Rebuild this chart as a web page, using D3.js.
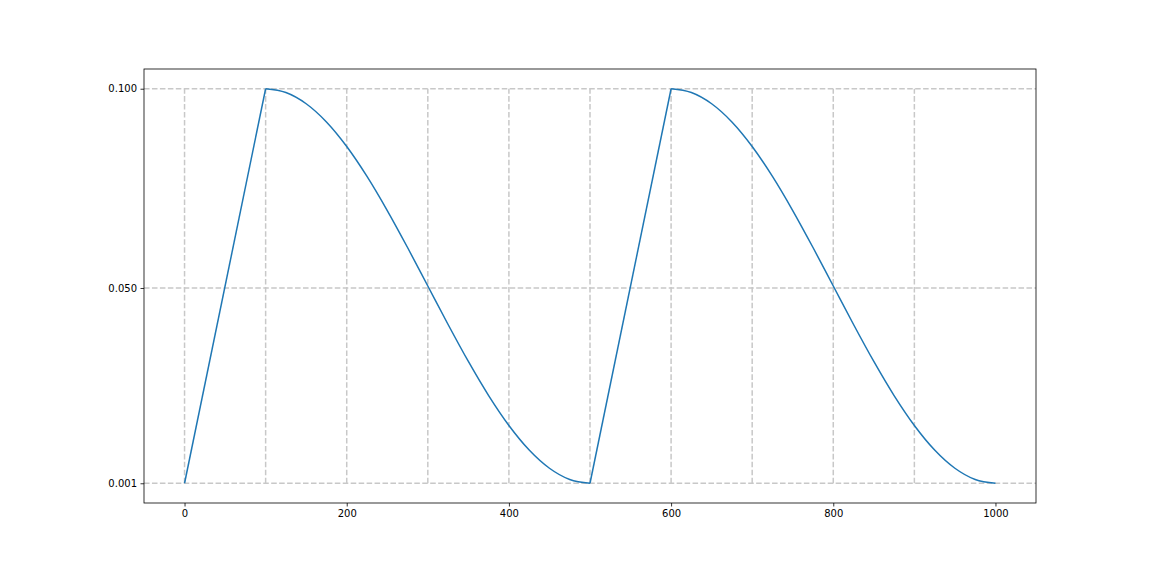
<!DOCTYPE html>
<html>
<head>
<meta charset="utf-8">
<script src="https://cdn.jsdelivr.net/npm/d3@7"></script>
<style>
  body { margin: 0; background: #fff; }
  svg { font-family: "DejaVu Sans", sans-serif; }
  .tick text { font-size: 10px; fill: #000; }
  .grid { stroke: #c8c8c8; stroke-width: 1.5; stroke-dasharray: 5.55 2.4; fill: none; }
</style>
</head>
<body>
<svg width="1152" height="576"></svg>
<script>
// values: learning rate per step, two warmup + cosine cycles
const warmupSteps1 = [0, 100];
const warmupLr1 = [0.001, 0.1];
const decaySteps1 = [100, 125, 150, 175, 200, 225, 250, 275, 300, 325, 350, 375, 400, 425, 450, 475, 500];
const decayLr1 = [0.1, 0.09905, 0.09623, 0.09166, 0.0855, 0.078, 0.06944, 0.06016, 0.0505,
                  0.04084, 0.03156, 0.023, 0.0155, 0.00934, 0.00477, 0.00195, 0.001];
const warmupSteps2 = [500, 600];
const warmupLr2 = [0.001, 0.1];
const decaySteps2 = [600, 625, 650, 675, 700, 725, 750, 775, 800, 825, 850, 875, 900, 925, 950, 975, 1000];
const decayLr2 = [0.1, 0.09905, 0.09623, 0.09166, 0.0855, 0.078, 0.06944, 0.06016, 0.0505,
                  0.04084, 0.03156, 0.023, 0.0155, 0.00934, 0.00477, 0.00195, 0.001];

const xTicks = [0, 200, 400, 600, 800, 1000];
const yTicks = [0.001, 0.05, 0.1];
const gridX = [0, 100, 200, 300, 400, 500, 600, 700, 800, 900];
const gridY = [0.001, 0.05, 0.1];

const svg = d3.select('svg');
const margin = { top: 69, right: 116, bottom: 73, left: 144 };
const width = +svg.attr('width');
const height = +svg.attr('height');
const innerWidth = width - margin.left - margin.right;
const innerHeight = height - margin.top - margin.bottom;

const xScale = d3.scaleLinear().domain([-50, 1050]).range([0, innerWidth]);
const yScale = d3.scaleLinear().domain([-0.00395, 0.10495]).range([innerHeight, 0]);

const g = svg.append('g').attr('transform', `translate(${margin.left}, ${margin.top})`);

// vertical dashed lines, only between lowest and highest lr
g.selectAll('.vgrid')
    .data(gridX)
    .enter().append('line')
    .attr('class', 'grid')
    .attr('x1', d => xScale(d)).attr('x2', d => xScale(d))
    .attr('y1', yScale(0.001)).attr('y2', yScale(0.1));

// horizontal dashed lines across the whole axes
g.selectAll('.hgrid')
    .data(gridY)
    .enter().append('line')
    .attr('class', 'grid')
    .attr('x1', 0).attr('x2', innerWidth)
    .attr('y1', d => yScale(d)).attr('y2', d => yScale(d));

const zip = (xs, ys) => xs.map((x, i) => ({ step: x, lr: ys[i] }));
const straight = d3.line().x(d => xScale(d.step)).y(d => yScale(d.lr));
const smooth = d3.line().x(d => xScale(d.step)).y(d => yScale(d.lr)).curve(d3.curveMonotoneX);

const segments = [
    { pts: zip(warmupSteps1, warmupLr1), gen: straight },
    { pts: zip(decaySteps1, decayLr1), gen: smooth },
    { pts: zip(warmupSteps2, warmupLr2), gen: straight },
    { pts: zip(decaySteps2, decayLr2), gen: smooth }
];
segments.forEach(s => {
    g.append('path')
        .attr('d', s.gen(s.pts))
        .attr('fill', 'none')
        .attr('stroke', '#1f77b4')
        .attr('stroke-width', 1.5)
        .attr('stroke-linejoin', 'round');
});

// axes
const xAxis = g.append('g')
    .attr('transform', `translate(0, ${innerHeight})`)
    .call(d3.axisBottom(xScale).tickValues(xTicks).tickFormat(d3.format('d')).tickSizeOuter(0).tickSize(3.5).tickPadding(3.5));
const yAxis = g.append('g')
    .call(d3.axisLeft(yScale).tickValues(yTicks).tickFormat(d3.format('.3f')).tickSizeOuter(0).tickSize(3.5).tickPadding(3.5));
[xAxis, yAxis].forEach(a => {
    a.select('.domain').remove();
    a.selectAll('.tick line').attr('stroke', '#000').attr('stroke-width', 0.8);
    a.attr('font-family', null).attr('font-size', null);
});

// frame
g.append('rect')
    .attr('x', 0).attr('y', 0)
    .attr('width', innerWidth).attr('height', innerHeight)
    .attr('fill', 'none').attr('stroke', '#000').attr('stroke-width', 0.8);
</script>
</body>
</html>
